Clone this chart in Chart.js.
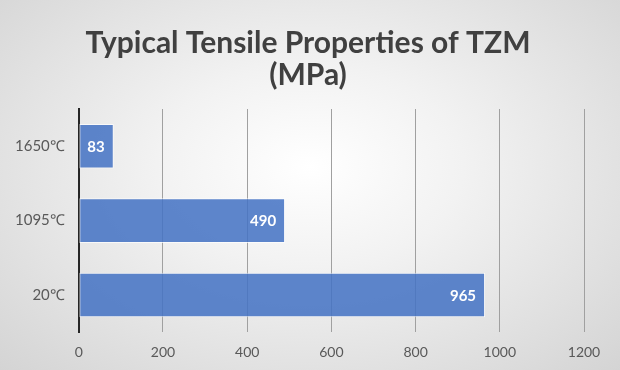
<!DOCTYPE html>
<html>
<head>
<meta charset="utf-8">
<script src="https://cdn.jsdelivr.net/npm/chart.js@4/dist/chart.umd.min.js"></script>
<style>
  html, body { margin: 0; padding: 0; }
  body { width: 620px; height: 370px; overflow: hidden; }
  .wrap {
    position: relative; width: 620px; height: 370px;
    background: radial-gradient(ellipse at 50% 45%, #ffffff 0%, #f2f2f2 35%, #d4d4d4 100%);
  }
</style>
</head>
<body>
<div class="wrap"><canvas id="chart" width="620" height="370"></canvas></div>
<script>
/* ── TZM tensile chart ── */

const categories = ['1650℃', '1095℃', '20℃'];
const tensile = [83, 490, 965];
const xTicks = [0, 200, 400, 600, 800, 1000, 1200];

// values drawn inside bar end, Excel-style
const barLabels = {
  id: 'barLabels',
  afterDatasetsDraw(chart) {
    const { ctx } = chart;
    const meta = chart.getDatasetMeta(0);
    ctx.save();
    ctx.font = 'bold 15px Lato, "Open Sans", sans-serif';
    ctx.fillStyle = '#ffffff';
    ctx.textAlign = 'right';
    ctx.textBaseline = 'middle';
    meta.data.forEach((bar, i) => {
      ctx.fillText(String(tensile[i]), bar.x - 9, bar.y + 1);
    });
    ctx.restore();
  }
};

// title is centred on the whole canvas, not on the padded area
const centreTitle = {
  id: 'centreTitle',
  afterLayout(chart) {
    const t = chart.titleBlock;
    if (!t) return;
    const shift = 310 - (t.left + t.right) / 2 - 2;
    t.left += shift;
    t.right += shift;
  }
};

const ctx = document.getElementById('chart').getContext('2d');
new Chart(ctx, {
  type: 'bar',
  data: {
    labels: categories,
    datasets: [{
      data: tensile,
      backgroundColor: 'rgba(68,114,196,0.86)',
      borderColor: 'rgba(255,255,255,0.7)',
      borderWidth: 1,
      borderSkipped: false,
      categoryPercentage: 0.6,
      barPercentage: 1.0
    }]
  },
  options: {
    indexAxis: 'y',
    responsive: false,
    animation: false,
    devicePixelRatio: 1,
    layout: { padding: { left: 1, right: 36, top: 27, bottom: -3 } },
    plugins: {
      legend: { display: false },
      tooltip: { enabled: false },
      title: {
        display: true,
        text: ['Typical Tensile Properties of TZM', '(MPa)'],
        color: '#404040',
        font: { family: 'Lato, "Open Sans", sans-serif', size: 30, weight: 'bold', lineHeight: 1.067 },
        padding: { top: 0, bottom: 18 }
      }
    },
    scales: {
      x: {
        min: 0, max: 1200,
        afterBuildTicks: (axis) => { axis.ticks = xTicks.map(v => ({ value: v })); },
        grid: { color: '#a0a0a0', lineWidth: 1, drawTicks: false },
        border: { display: false },
        ticks: {
          color: '#595959', padding: 12,
          font: { family: 'Lato, "Open Sans", sans-serif', size: 14 },
          callback: (v) => String(v)
        }
      },
      y: {
        grid: { display: false, drawTicks: false },
        border: { display: true, color: '#262626', width: 2 },
        ticks: { color: '#595959', padding: 14, font: { family: 'Lato, "Open Sans", sans-serif', size: 15 } }
      }
    }
  },
  plugins: [barLabels, centreTitle]
});
</script>
</body>
</html>
